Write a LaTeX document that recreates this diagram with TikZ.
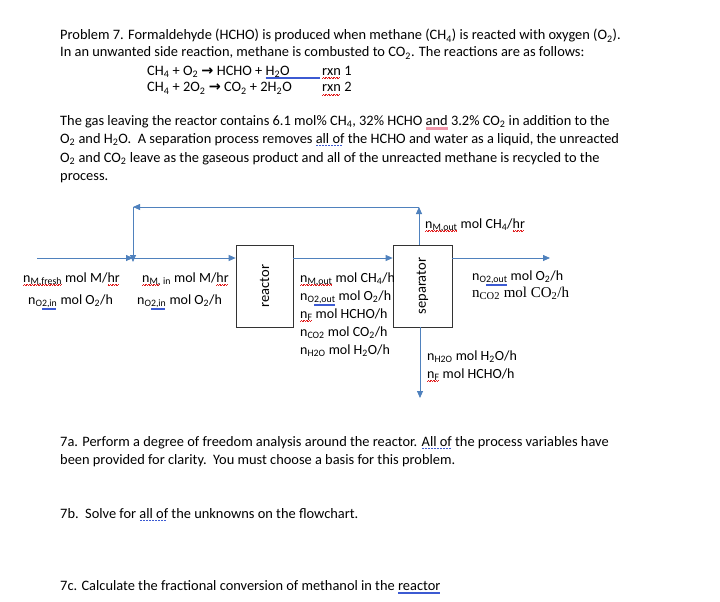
\documentclass[tikz,border=0pt]{standalone}
\usepackage{fontspec}
\setmainfont{Carlito}
\newfontfamily\camfont{Liberation Serif}
\newfontfamily\arrowfont{DejaVu Sans}
\usepackage{xcolor}
\usetikzlibrary{arrows.meta}
\usetikzlibrary{positioning}

\definecolor{flowblue}{RGB}{79,129,189}
\definecolor{spellred}{RGB}{225,30,30}
\definecolor{gramblue}{RGB}{60,90,210}
\definecolor{markpink}{RGB}{240,150,170}

% subscripts and the word-processor marks
\newsavebox{\markbox}
\newcommand{\sbs}[1]{\textsubscript{#1}}
\newcommand{\rarr}{{\arrowfont\bfseries →}}
\newcommand{\markunder}[2]{\sbox{\markbox}{#2}\rlap{\hbox to \wd\markbox{\leaders\hbox{#1}\hfill}}\usebox{\markbox}}
\newcommand{\redwave}[1]{\markunder{\textcolor{spellred}{\rule[-3.2pt]{0.8pt}{0.6pt}\rule[-2.4pt]{0.8pt}{0.6pt}}}{#1}}
\newcommand{\bluedbl}[1]{\markunder{\textcolor{gramblue}{\rlap{\rule[-2.2pt]{1pt}{0.5pt}}\rule[-3.8pt]{1pt}{0.5pt}}}{#1}}
\newcommand{\bluedash}[1]{\markunder{\textcolor{gramblue}{\kern0.6pt\rule[-3pt]{1.8pt}{0.9pt}\kern0.6pt}}{#1}}
\newcommand{\pinkbar}[1]{\markunder{\textcolor{markpink}{\rule[-4.5pt]{1pt}{2.2pt}}}{#1}}

\tikzset{
    txt/.style={anchor=base west,inner sep=0pt,font=\fontsize{14.4}{17}\selectfont},
    lbl/.style={anchor=base west,inner sep=0pt,font=\fontsize{14}{17}\selectfont},
    unit/.style={draw=black!80,line width=0.7pt,minimum width=57pt,minimum height=82pt,inner sep=0pt},
    flow/.style={draw=flowblue,line width=0.8pt,-{Triangle[length=7pt,width=6pt]}},
}

\begin{document}
\begin{tikzpicture}[x=1pt,y=-1pt]
        \useasboundingbox[fill=white] (0,0) rectangle (720,602);

        % problem statement
        \node[txt] (l1) at (60,40) {Problem 7. Formaldehyde (HCHO) is produced when methane (CH\sbs{4}) is reacted with oxygen (O\sbs{2}).};
        \node[txt] (l2) at (60,57) {In an unwanted side reaction, methane is combusted to CO\sbs{2}. The reactions are as follows:};
        \node[txt] (r1) at (147,75) {CH\sbs{4} + O\sbs{2} \rarr{} HCHO + \bluedbl{H\sbs{2}O\hbox to 30pt{\hfil}}};
        \node[txt] (r2) at (147,92) {CH\sbs{4} + 2O\sbs{2} \rarr{} CO\sbs{2} + 2H\sbs{2}O};
        \node[txt] (x1) at (322,75) {\redwave{rxn} 1};
        \node[txt] (x2) at (322,92) {\redwave{rxn} 2};
        \node[txt] (l3) at (60,125) {The gas leaving the reactor contains 6.1 mol\% CH\sbs{4}, 32\% HCHO \pinkbar{and} 3.2\% CO\sbs{2} in addition to the};
        \node[txt] (l4) at (60,143) {O\sbs{2} and H\sbs{2}O.\ \ A separation process removes \bluedash{all of} the HCHO and water as a liquid, the unreacted};
        \node[txt] (l5) at (60,162) {O\sbs{2} and CO\sbs{2} leave as the gaseous product and all of the unreacted methane is recycled to the};
        \node[txt] (l6) at (60,180) {process.};

        % flowchart
        \node[unit] (reactor) at (264.5,286) {\rotatebox{90}{\fontsize{14.5}{17}\selectfont reactor}};
        \node[unit,minimum width=59pt] (separator) at (422.5,286) {\rotatebox{90}{\fontsize{14.5}{17}\selectfont separator}};
        \coordinate (feed) at (37,258);
        \coordinate (mix) at (133,258);
        \coordinate (rectop) at (419,207);
        \coordinate (recleft) at (133,207);
        \coordinate (gasout) at (550,258);
        \coordinate (liqout) at (420,398);

        \draw[flow] (feed) -- (mix);
        \draw[flow] (mix) -- (reactor.west |- mix);
        \draw[flow] (reactor.east |- mix) -- (separator.west |- mix);
        \draw[flow] (separator.north -| rectop) -- (rectop);
        \draw[flow] (rectop) -- (recleft);
        \draw[flow] (recleft) -- ([yshift=-4pt]mix);
        \draw[flow] (separator.east |- mix) -- (gasout);
        \draw[flow] (separator.south -| liqout) -- (liqout);

        % stream labels
        \node[lbl] (f1) at (23,282) {\redwave{n\sbs{M,fresh}} mol M/\redwave{hr}};
        \node[lbl] (f2) at (28,304) {n\sbs{O\bluedbl{2,in}} mol O\sbs{2}/h};
        \node[lbl] (i1) at (142,282) {\redwave{n\sbs{M,}}\sbs{ in} mol M/\redwave{hr}};
        \node[lbl] (i2) at (137,304) {n\sbs{O\bluedbl{2,in}} mol O\sbs{2}/h};
        \node[lbl] (o1) at (300,282) {\redwave{n\sbs{M,out}} mol CH\sbs{4}/h};
        \node[lbl] (o2) at (300,300) {n\sbs{O\bluedbl{2,out}} mol O\sbs{2}/h};
        \node[lbl] (o3) at (300,318) {\redwave{n\sbs{F}} mol HCHO/h};
        \node[lbl] (o4) at (300,336) {n\sbs{CO2} mol CO\sbs{2}/h};
        \node[lbl] (o5) at (300,354) {n\sbs{H2O} mol H\sbs{2}O/h};
        \node[lbl] (t1) at (425,228) {\redwave{n\sbs{M,out}} mol CH\sbs{4}/\redwave{hr}};
        \node[lbl] (g1) at (472,280) {n\sbs{O\bluedbl{2,out}} mol O\sbs{2}/h};
        \node[lbl,font=\camfont\fontsize{15}{17}\selectfont] (g2) at (472,297) {n\sbs{CO2} mol CO\sbs{2}/h};
        \node[lbl] (q1) at (427,360) {n\sbs{H2O} mol H\sbs{2}O/h};
        \node[lbl] (q2) at (427,378) {\redwave{n\sbs{F}} mol HCHO/h};

        % questions
        \node[txt] (qa) at (60,446) {7a. Perform a degree of freedom analysis around the reactor. \bluedash{All of} the process variables have};
        \node[txt] (qa2) at (60,464) {been provided for clarity.\ \ You must choose a basis for this problem.};
        \node[txt] (qb) at (60,518) {7b.\ \ Solve for \bluedash{all of} the unknowns on the flowchart.};
        \node[txt] (qc) at (60,590) {7c. Calculate the fractional conversion of methanol in the \bluedbl{reactor}};
    \end{tikzpicture}
\end{document}
